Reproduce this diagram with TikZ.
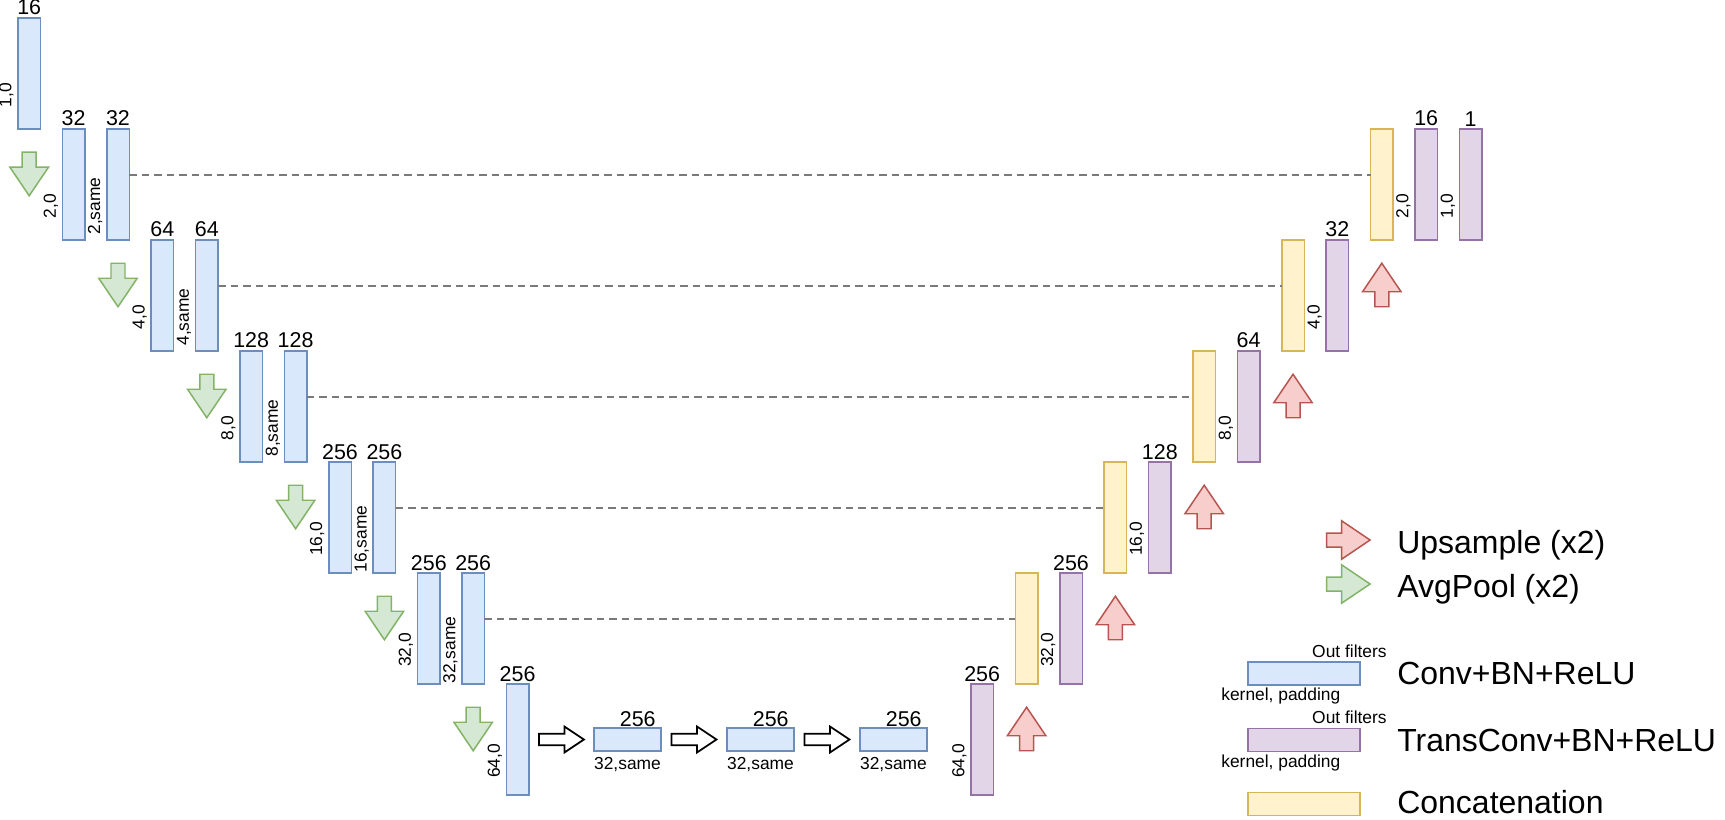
\documentclass[tikz,border=0pt]{standalone}
\usepackage{fontspec}
\setmainfont{Liberation Sans}
\usetikzlibrary{calc}

\definecolor{convfill}{HTML}{DAE8FC}
\definecolor{convdraw}{HTML}{6C8EBF}
\definecolor{tconvfill}{HTML}{E1D5E7}
\definecolor{tconvdraw}{HTML}{9673A6}
\definecolor{catfill}{HTML}{FFF2CC}
\definecolor{catdraw}{HTML}{D6B656}
\definecolor{poolfill}{HTML}{D5E8D4}
\definecolor{pooldraw}{HTML}{82B366}
\definecolor{upfill}{HTML}{F8CECC}
\definecolor{updraw}{HTML}{B85450}
\definecolor{skipgray}{HTML}{7A7A7A}

\tikzset{
  conv/.style={draw=convdraw, fill=convfill, line width=0.85pt, minimum width=0.45cm, minimum height=2.22cm, inner sep=0pt, outer sep=0pt},
  tconv/.style={conv, draw=tconvdraw, fill=tconvfill},
  concat/.style={conv, draw=catdraw, fill=catfill},
  flat/.style={minimum width=1.34cm, minimum height=0.46cm},
  num/.style={font=\fontsize{12.2}{14}\selectfont, inner sep=1.4pt},
  kern/.style={font=\fontsize{9.9}{12}\selectfont, inner sep=0pt, rotate=90, anchor=south},
  small/.style={font=\fontsize{9.9}{12}\selectfont, inner sep=0pt},
  legtxt/.style={font=\fontsize{18.2}{22}\selectfont, inner sep=0pt},
  skipline/.style={draw=skipgray, line width=0.85pt, dash pattern=on 0.15cm off 0.1cm},
  pool/.style={draw=pooldraw, fill=poolfill, line width=0.85pt},
  upsamp/.style={draw=updraw, fill=upfill, line width=0.85pt},
  flow/.style={draw=black, fill=white, line width=1pt},
  fatarrow/.pic={\draw[pic actions] (-21.75,-7) -- (-6.75,-7) -- (-6.75,-19.25) -- (21.75,0) -- (-6.75,19.25) -- (-6.75,7) -- (-21.75,7) -- cycle;},
  flowarrow/.pic={\draw[pic actions] (-22.5,-5.75) -- (3,-5.75) -- (3,-13) -- (22.5,0) -- (3,13) -- (3,5.75) -- (-22.5,5.75) -- cycle;},
}

\begin{document}
\begin{tikzpicture}[x=0.02cm, y=-0.02cm]
\useasboundingbox (0,0) rectangle (1725,819);
% encoder
\node[conv, label={[num]above:16}] (e0) at (29.2,73.5) {};
\node[conv, label={[num]above:32}] (e1a) at (73.6,184.5) {};
\node[conv, label={[num]above:32}] (e1b) at (118.0,184.5) {};
\node[conv, label={[num]above:64}] (e2a) at (162.4,295.5) {};
\node[conv, label={[num]above:64}] (e2b) at (206.8,295.5) {};
\node[conv, label={[num]above:128}] (e3a) at (251.2,406.5) {};
\node[conv, label={[num]above:128}] (e3b) at (295.6,406.5) {};
\node[conv, label={[num]above:256}] (e4a) at (340.0,517.5) {};
\node[conv, label={[num]above:256}] (e4b) at (384.4,517.5) {};
\node[conv, label={[num]above:256}] (e5a) at (428.8,628.5) {};
\node[conv, label={[num]above:256}] (e5b) at (473.2,628.5) {};
\node[conv, label={[num]above:256}] (e6) at (517.6,739.5) {};
\node[kern] (e0k) at ($(e0.south west)+(-4,-34)$) {1,0};
\node[kern] (e1ak) at ($(e1a.south west)+(-4,-34)$) {2,0};
\node[kern] (e1bk) at ($(e1b.south west)+(-4,-34)$) {2,same};
\node[kern] (e2ak) at ($(e2a.south west)+(-4,-34)$) {4,0};
\node[kern] (e2bk) at ($(e2b.south west)+(-4,-34)$) {4,same};
\node[kern] (e3ak) at ($(e3a.south west)+(-4,-34)$) {8,0};
\node[kern] (e3bk) at ($(e3b.south west)+(-4,-34)$) {8,same};
\node[kern] (e4ak) at ($(e4a.south west)+(-4,-34)$) {16,0};
\node[kern] (e4bk) at ($(e4b.south west)+(-4,-34)$) {16,same};
\node[kern] (e5ak) at ($(e5a.south west)+(-4,-34)$) {32,0};
\node[kern] (e5bk) at ($(e5b.south west)+(-4,-34)$) {32,same};
\node[kern] (e6k) at ($(e6.south west)+(-4,-34)$) {64,0};
% pooling
\pic[pool, rotate=-90] at ($(e0.south)+(0,45)$) {fatarrow};
\pic[pool, rotate=-90] at ($(e1b.south)+(0,45)$) {fatarrow};
\pic[pool, rotate=-90] at ($(e2b.south)+(0,45)$) {fatarrow};
\pic[pool, rotate=-90] at ($(e3b.south)+(0,45)$) {fatarrow};
\pic[pool, rotate=-90] at ($(e4b.south)+(0,45)$) {fatarrow};
\pic[pool, rotate=-90] at ($(e5b.south)+(0,45)$) {fatarrow};
% bottleneck
\node[conv, flat] (h1) at (627.5,739.5) {};
\node[conv, flat] (h2) at (760.5,739.5) {};
\node[conv, flat] (h3) at (893.5,739.5) {};
\node[num, inner sep=0pt, anchor=base east] (h1n) at ($(h1.north east)+(-5,-2)$) {256};
\node[num, inner sep=0pt, anchor=base east] (h2n) at ($(h2.north east)+(-5,-2)$) {256};
\node[num, inner sep=0pt, anchor=base east] (h3n) at ($(h3.north east)+(-5,-2)$) {256};
\node[small, anchor=north] (h1k) at ($(h1.south)+(0,6)$) {32,same};
\node[small, anchor=north] (h2k) at ($(h2.south)+(0,6)$) {32,same};
\node[small, anchor=north] (h3k) at ($(h3.south)+(0,6)$) {32,same};
\pic[flow] at ($(e6.east)!0.5!(h1.west)$) {flowarrow};
\pic[flow] at ($(h1.east)!0.5!(h2.west)$) {flowarrow};
\pic[flow] at ($(h2.east)!0.5!(h3.west)$) {flowarrow};
% decoder
\node[tconv, label={[num]above:256}] (d6) at (982.2,739.5) {};
\node[concat] (c5) at (1026.6,628.5) {};
\node[tconv, label={[num]above:256}] (d5) at (1071.0,628.5) {};
\node[concat] (c4) at (1115.4,517.5) {};
\node[tconv, label={[num]above:128}] (d4) at (1159.8,517.5) {};
\node[concat] (c3) at (1204.2,406.5) {};
\node[tconv, label={[num]above:64}] (d3) at (1248.6,406.5) {};
\node[concat] (c2) at (1293.0,295.5) {};
\node[tconv, label={[num]above:32}] (d2) at (1337.4,295.5) {};
\node[concat] (c1) at (1381.8,184.5) {};
\node[tconv, label={[num]above:16}] (d1a) at (1426.2,184.5) {};
\node[tconv, label={[num]above:1}] (d1b) at (1470.6,184.5) {};
\node[kern] (d6k) at ($(d6.south west)+(-4,-34)$) {64,0};
\node[kern] (d5k) at ($(d5.south west)+(-4,-34)$) {32,0};
\node[kern] (d4k) at ($(d4.south west)+(-4,-34)$) {16,0};
\node[kern] (d3k) at ($(d3.south west)+(-4,-34)$) {8,0};
\node[kern] (d2k) at ($(d2.south west)+(-4,-34)$) {4,0};
\node[kern] (d1ak) at ($(d1a.south west)+(-4,-34)$) {2,0};
\node[kern] (d1bk) at ($(d1b.south west)+(-4,-34)$) {1,0};
% upsampling
\pic[upsamp, rotate=90] at ($(c5.south)+(0,45)$) {fatarrow};
\pic[upsamp, rotate=90] at ($(c4.south)+(0,45)$) {fatarrow};
\pic[upsamp, rotate=90] at ($(c3.south)+(0,45)$) {fatarrow};
\pic[upsamp, rotate=90] at ($(c2.south)+(0,45)$) {fatarrow};
\pic[upsamp, rotate=90] at ($(c1.south)+(0,45)$) {fatarrow};
% skip connections
\draw[skipline] ($(e1b.east)+(0,-9.5)$) -- ($(c1.west)+(0,-9.5)$);
\draw[skipline] ($(e2b.east)+(0,-9.5)$) -- ($(c2.west)+(0,-9.5)$);
\draw[skipline] ($(e3b.east)+(0,-9.5)$) -- ($(c3.west)+(0,-9.5)$);
\draw[skipline] ($(e4b.east)+(0,-9.5)$) -- ($(c4.west)+(0,-9.5)$);
\draw[skipline] ($(e5b.east)+(0,-9.5)$) -- ($(c5.west)+(0,-9.5)$);
% legend
\pic[upsamp] at (1348.3,540) {fatarrow};
\node[legtxt, anchor=base west] (lup) at (1397,553) {Upsample (x2)};
\pic[pool] at (1348.3,584) {fatarrow};
\node[legtxt, anchor=base west] (lpool) at (1397,597) {AvgPool (x2)};
\node[conv, minimum width=2.24cm, minimum height=0.46cm] (lconv) at (1304,673.5) {};
\node[small, anchor=base east] (lconvo) at ($(lconv.north east)+(27,-5)$) {Out filters};
\node[small, anchor=north west] (lconvk) at ($(lconv.south west)+(-27,3)$) {kernel, padding};
\node[legtxt, anchor=west] (lconvt) at ($(lconv.east)+(37,0)$) {Conv+BN+ReLU};
\node[tconv, minimum width=2.24cm, minimum height=0.46cm] (ltconv) at (1304,740) {};
\node[small, anchor=base east] (ltconvo) at ($(ltconv.north east)+(27,-5)$) {Out filters};
\node[small, anchor=north west] (ltconvk) at ($(ltconv.south west)+(-27,3)$) {kernel, padding};
\node[legtxt, anchor=west] (ltconvt) at ($(ltconv.east)+(37,0)$) {TransConv+BN+ReLU};
\node[concat, minimum width=2.24cm, minimum height=0.46cm] (lcat) at (1304,804) {};
\node[legtxt, anchor=west] (lcatt) at ($(lcat.east)+(37,-1.5)$) {Concatenation};
\end{tikzpicture}
\end{document}
